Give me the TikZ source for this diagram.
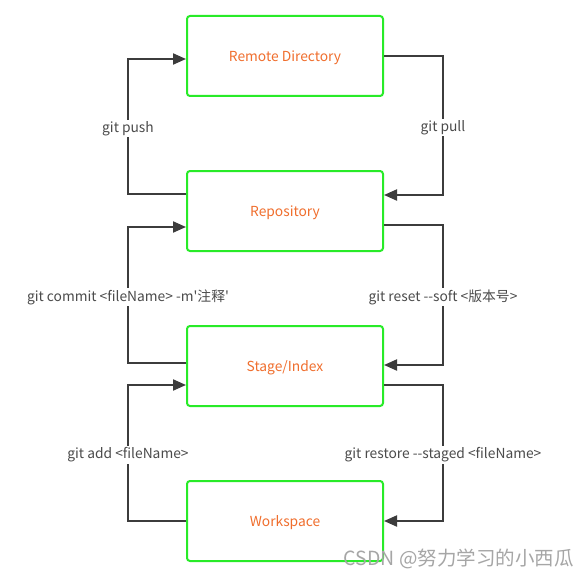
\documentclass[tikz,border=0pt]{standalone}
\usepackage{fontspec}
\setmainfont{Noto Sans CJK SC}
\usetikzlibrary{arrows.meta}
\definecolor{boxgreen}{RGB}{40,235,40}
\definecolor{txtorange}{RGB}{240,110,45}
\definecolor{linegray}{RGB}{60,60,60}
\definecolor{lblgray}{RGB}{75,75,75}
\tikzset{
  box/.style={draw=boxgreen, line width=2pt, rounded corners=3pt, minimum width=196pt, minimum height=80pt, inner sep=0pt},
  boxtext/.style={text=txtorange, font=\fontsize{13.8}{16}\selectfont, inner sep=0pt, yshift=-2pt},
  conn/.style={draw=linegray, line width=2pt, -{Triangle[length=13pt,width=11pt]}},
  lbl/.style={fill=white, text=lblgray, font=\fontsize{13.8}{16}\selectfont, inner sep=1.5pt, yshift=-2pt}
}
\begin{document}
\begin{tikzpicture}[x=1pt,y=-1pt]
\useasboundingbox[fill=white] (0,0) rectangle (587,578);
\node[box, label={[boxtext]center:Remote Directory}] (rd) at (285,56) {};
\node[box, label={[boxtext]center:Repository}] (rp) at (285,211) {};
\node[box, label={[boxtext]center:Stage/Index}] (si) at (285,366) {};
\node[box, label={[boxtext]center:Workspace}] (ws) at (285,521) {};
\coordinate (L) at (128,0);
\coordinate (R) at (443,0);
% git push
\draw[conn] ([yshift=17pt]rp.west) -- ([yshift=17pt]rp.west -| L) |- ([yshift=-3pt]rd.west) node[lbl,pos=0.25] {git push};
% git pull
\draw[conn] (rd.east) -- (rd.east -| R) |- ([yshift=16pt]rp.east) node[lbl,pos=0.25] {git pull};
% git commit
\draw[conn] ([yshift=3pt]si.west) -- ([yshift=3pt]si.west -| L) |- ([yshift=-16pt]rp.west) node[lbl,pos=0.25] {git commit <fileName> -m\textquotesingle 注释\textquotesingle};
% git reset
\draw[conn] ([yshift=-14pt]rp.east) -- ([yshift=-14pt]rp.east -| R) |- ([yshift=1pt]si.east) node[lbl,pos=0.25] {git reset -{}-soft <版本号>};
% git add
\draw[conn] (ws.west) -- (ws.west -| L) |- ([yshift=-19pt]si.west) node[lbl,pos=0.25] {git add <fileName>};
% git restore
\draw[conn] ([yshift=-19pt]si.east) -- ([yshift=-19pt]si.east -| R) |- (ws.east) node[lbl,pos=0.25] {git restore -{}-staged <fileName>};
% watermark
\node[anchor=east, text=black!35, font=\fontsize{19.5}{22}\selectfont, inner sep=0pt] (wm) at (574,559) {CSDN @努力学习的小西瓜};
\end{tikzpicture}
\end{document}
